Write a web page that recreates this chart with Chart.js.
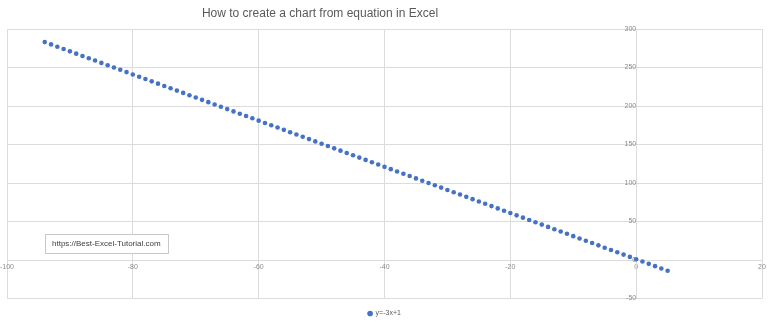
<!DOCTYPE html>
<html>
<head>
<meta charset="utf-8">
<script src="https://cdn.jsdelivr.net/npm/chart.js@4/dist/chart.umd.min.js"></script>
<style>
  body { margin: 0; background: #fff; }
  #wrap { width: 768px; height: 321px; position: relative; }
</style>
</head>
<body>
<div id="wrap"><canvas id="myChart"></canvas></div>
<script>
// data
var chartTitle = 'How to create a chart from equation in Excel';
var seriesName = 'y=-3x+1';
var xValues = [-94, -93, -92, -91, -90, -89, -88, -87, -86, -85, -84, -83, -82, -81, -80, -79, -78, -77, -76, -75,
  -74, -73, -72, -71, -70, -69, -68, -67, -66, -65, -64, -63, -62, -61, -60, -59, -58, -57, -56, -55,
  -54, -53, -52, -51, -50, -49, -48, -47, -46, -45, -44, -43, -42, -41, -40, -39, -38, -37, -36, -35,
  -34, -33, -32, -31, -30, -29, -28, -27, -26, -25, -24, -23, -22, -21, -20, -19, -18, -17, -16, -15,
  -14, -13, -12, -11, -10, -9, -8, -7, -6, -5, -4, -3, -2, -1, 0, 1, 2, 3, 4, 5];
var yValues = [283, 280, 277, 274, 271, 268, 265, 262, 259, 256, 253, 250, 247, 244, 241, 238, 235, 232, 229, 226,
  223, 220, 217, 214, 211, 208, 205, 202, 199, 196, 193, 190, 187, 184, 181, 178, 175, 172, 169, 166,
  163, 160, 157, 154, 151, 148, 145, 142, 139, 136, 133, 130, 127, 124, 121, 118, 115, 112, 109, 106,
  103, 100, 97, 94, 91, 88, 85, 82, 79, 76, 73, 70, 67, 64, 61, 58, 55, 52, 49, 46,
  43, 40, 37, 34, 31, 28, 25, 22, 19, 16, 13, 10, 7, 4, 1, -2, -5, -8, -11, -14];
var xTicks = [-100, -80, -60, -40, -20, 0, 20];
var yTicks = [-50, 0, 50, 100, 150, 200, 250, 300];
var watermark = 'https://Best-Excel-Tutorial.com';

var points = [];
for (var i = 0; i < xValues.length; i++) {
  points.push({ x: xValues[i], y: yValues[i] });
}

var gridColor = '#dcdcdc';
var labelFont = { family: 'Liberation Sans Narrow, Liberation Sans, sans-serif', size: 7 };

// title sits left of centre in the original, so draw it by hand
var titlePlugin = {
  id: 'excelTitle',
  afterDraw: function (chart) {
    var ctx = chart.ctx;
    ctx.save();
    ctx.font = '12px "Liberation Sans Narrow", "Liberation Sans", sans-serif';
    ctx.fillStyle = '#595959';
    ctx.textAlign = 'center';
    ctx.textBaseline = 'middle';
    ctx.fillText(chartTitle, 320, 14);

    // watermark box
    ctx.font = '8px "Liberation Sans", sans-serif';
    ctx.fillStyle = '#fff';
    ctx.strokeStyle = '#c8c8c8';
    ctx.fillRect(45, 234, 123, 19);
    ctx.strokeRect(45.5, 234.5, 123, 19);
    ctx.fillStyle = '#404040';
    ctx.textAlign = 'left';
    ctx.fillText(watermark, 52, 244);
    ctx.restore();
  }
};

var ctx = document.getElementById('myChart').getContext('2d');
var myChart = new Chart(ctx, {
  type: 'scatter',
  data: {
    datasets: [{
      label: seriesName,
      data: points,
      backgroundColor: '#4472c4',
      borderColor: '#4472c4',
      pointRadius: 2.3,
      pointBorderWidth: 0
    }]
  },
  options: {
    responsive: true,
    maintainAspectRatio: false,
    animation: false,
    layout: { padding: { left: 7, right: 6, top: 29, bottom: -6 } },
    plugins: {
      title: { display: false },
      tooltip: { enabled: false },
      legend: {
        position: 'bottom',
        labels: {
          usePointStyle: true,
          pointStyle: 'circle',
          boxWidth: 4,
          boxHeight: 4,
          padding: 11.5,
          color: '#595959',
          font: labelFont
        }
      }
    },
    scales: {
      x: {
        type: 'linear',
        position: { y: 0 },
        min: -100,
        max: 20,
        afterBuildTicks: function (axis) {
          axis.ticks = xTicks.map(function (v) { return { value: v }; });
        },
        afterFit: function (axis) {
          axis.paddingLeft = 0;
          axis.paddingRight = 0;
        },
        grid: { color: gridColor, drawTicks: false },
        border: { display: true, color: gridColor },
        ticks: { color: '#8c8c8c', font: labelFont, padding: 3, maxRotation: 0 }
      },
      y: {
        type: 'linear',
        position: { x: 0 },
        min: -50,
        max: 300,
        afterBuildTicks: function (axis) {
          axis.ticks = yTicks.map(function (v) { return { value: v }; });
        },
        afterFit: function (axis) {
          axis.paddingTop = 0;
          axis.paddingBottom = 0;
        },
        grid: { color: gridColor, drawTicks: false },
        border: { display: true, color: gridColor },
        ticks: { color: '#8c8c8c', font: labelFont, padding: 4 }
      }
    }
  },
  plugins: [titlePlugin]
});
</script>
</body>
</html>
